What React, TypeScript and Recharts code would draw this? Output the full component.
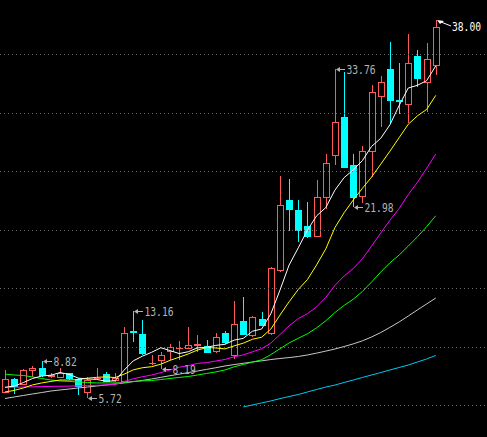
import React from 'react';
import { ComposedChart, XAxis, YAxis, Bar, Line, Scatter, ReferenceLine } from 'recharts';

const opens = [6.09, 7.28, 6.82, 7.99, 8.27, 7.48, 7.42, 7.78, 7.31, 6.15, 7.33, 7.74, 7.14, 7.03, 11.43, 11.18, 8.65, 8.85, 9.64, 9.87, 9.87, 10.15, 10.17, 9.64, 11.2, 9.27, 12.27, 10.96, 12.44, 11.15, 16.58, 22.61, 21.75, 20.39, 19.47, 22.75, 26.37, 29.73, 25.6, 22.84, 26.68, 31.45, 33.8, 31.15, 30.73, 34.92, 32.58, 34.09];
const highs = [8.08, 7.39, 8.12, 8.42, 8.82, 7.82, 8.29, 7.86, 7.35, 7.52, 8.28, 7.91, 7.8, 11.78, 13.16, 12.35, 9.36, 9.64, 10.3, 10.58, 11.73, 11.11, 10.67, 11.27, 11.45, 13.98, 14.34, 12.65, 13.03, 16.91, 24.68, 24.4, 22.61, 22.41, 24.32, 26.51, 33.76, 33.52, 26.54, 27.25, 32.44, 33.21, 36.14, 34.29, 36.8, 35.43, 36.0, 38.0];
const lows = [6.07, 6.03, 6.78, 7.5, 7.48, 7.39, 7.39, 7.22, 5.98, 5.72, 7.26, 7.01, 7.05, 6.97, 10.43, 9.36, 8.5, 8.19, 8.93, 8.93, 9.85, 9.64, 9.53, 9.53, 10.34, 9.02, 11.03, 10.9, 11.81, 11.1, 16.41, 19.98, 19.04, 19.4, 19.44, 21.84, 25.6, 25.3, 21.98, 22.33, 24.6, 28.87, 29.1, 29.96, 29.16, 32.24, 30.15, 33.29];
const closes = [7.28, 6.65, 8.08, 8.22, 7.56, 7.65, 7.78, 7.27, 6.65, 7.22, 7.43, 7.05, 7.42, 11.21, 11.21, 9.42, 8.7, 9.36, 10.02, 9.92, 10.21, 10.33, 9.56, 10.87, 10.39, 12.01, 11.07, 12.59, 11.86, 16.82, 22.18, 21.78, 19.98, 19.45, 22.84, 25.74, 29.25, 25.32, 22.75, 26.82, 31.81, 32.72, 31.09, 30.96, 34.34, 32.95, 34.66, 37.42];

const ma5 = [6.6, 6.7, 7.0, 7.35, 7.56, 7.63, 7.86, 7.7, 7.38, 7.31, 7.27, 7.12, 7.15, 8.07, 8.86, 9.26, 9.59, 9.98, 9.74, 9.48, 9.64, 9.97, 10.01, 10.18, 10.27, 10.63, 10.78, 11.39, 11.58, 12.87, 14.9, 17.05, 18.52, 20.04, 21.25, 21.96, 23.45, 24.52, 25.18, 25.98, 27.19, 27.88, 29.04, 30.68, 32.18, 32.41, 32.8, 34.07];
const ma10 = [6.2, 6.33, 6.54, 6.8, 6.97, 7.1, 7.22, 7.22, 7.26, 7.38, 7.45, 7.49, 7.43, 7.72, 8.09, 8.27, 8.36, 8.57, 8.9, 9.17, 9.45, 9.78, 9.99, 9.96, 9.88, 10.14, 10.37, 10.7, 10.88, 11.57, 12.77, 13.91, 14.96, 15.81, 17.06, 18.43, 20.25, 21.52, 22.61, 23.61, 24.57, 25.67, 26.78, 27.93, 29.08, 29.8, 30.34, 31.55];
const ma20 = [6.58, 6.6, 6.62, 6.64, 6.66, 6.67, 6.69, 6.7, 6.72, 6.74, 6.77, 6.8, 6.84, 7.08, 7.33, 7.5, 7.65, 7.85, 8.08, 8.31, 8.45, 8.64, 8.71, 8.84, 8.98, 9.2, 9.37, 9.63, 9.89, 10.37, 11.11, 11.85, 12.47, 12.89, 13.47, 14.28, 15.31, 16.11, 16.75, 17.59, 18.67, 19.79, 20.87, 21.87, 23.07, 24.12, 25.3, 26.54];
const ma30 = [7.73, 7.65, 7.61, 7.48, 7.35, 7.22, 7.14, 7.1, 7.05, 7.01, 6.97, 6.97, 6.97, 7.01, 7.1, 7.14, 7.18, 7.26, 7.35, 7.44, 7.52, 7.65, 7.78, 7.91, 8.08, 8.35, 8.55, 8.75, 8.95, 9.39, 9.89, 10.39, 10.79, 11.17, 11.68, 12.28, 12.99, 13.6, 14.13, 14.79, 15.6, 16.45, 17.24, 17.9, 18.67, 19.46, 20.32, 21.26];
const ma60 = [5.64, 5.77, 5.9, 6.03, 6.15, 6.28, 6.37, 6.45, 6.54, 6.62, 6.71, 6.79, 6.88, 6.97, 7.08, 7.19, 7.31, 7.45, 7.59, 7.72, 7.86, 7.99, 8.13, 8.27, 8.42, 8.54, 8.65, 8.76, 8.86, 8.97, 9.06, 9.14, 9.23, 9.36, 9.52, 9.69, 9.87, 10.08, 10.31, 10.57, 10.9, 11.28, 11.72, 12.18, 12.69, 13.21, 13.72, 14.23];
// the long average only starts at candle 26
const ma120Start = 26;
const ma120 = [4.92, 5.09, 5.26, 5.43, 5.63, 5.81, 5.98, 6.2, 6.41, 6.62, 6.79, 7.01, 7.22, 7.44, 7.65, 7.86, 8.08, 8.29, 8.5, 8.76, 9.02, 9.32];

const gridLevels = [5, 10, 15, 20, 25, 30, 35];
const markIndex = [47, 36, 38, 14, 4, 17, 9];
const markKind = ['high', 'high', 'low', 'high', 'high', 'low', 'low'];

const UP = '#ff5a5a';
const DOWN = '#00ffff';

const data = closes.map((close, i) => ({
  i,
  open: opens[i],
  high: highs[i],
  low: lows[i],
  close,
  ma5: ma5[i],
  ma10: ma10[i],
  ma20: ma20[i],
  ma30: ma30[i],
  ma60: ma60[i],
  ma120: i >= ma120Start ? ma120[i - ma120Start] : null,
}));

const marks = markIndex.map((i, k) => {
  const price = markKind[k] === 'high' ? highs[i] : lows[i];
  return { i, price, text: price.toFixed(2), last: i === closes.length - 1 };
});

const Candle = (props: any) => {
  const { x, y, width, height, payload } = props;
  const { open, close, high, low } = payload;
  const ratio = high > low ? height / (high - low) : 0;
  const yOpen = y + (high - open) * ratio;
  const yClose = y + (high - close) * ratio;
  const top = Math.round(Math.min(yOpen, yClose));
  const bottom = Math.round(Math.max(yOpen, yClose));
  const cx = Math.round(x + width / 2);
  const left = cx - 3;
  const up = close >= open;
  const color = up ? UP : DOWN;
  const yHigh = Math.round(y);
  const yLow = Math.round(y + height);

  let body;
  if (bottom - top < 2) {
    body = <line x1={left} x2={left + 7} y1={top + 0.5} y2={top + 0.5} stroke={color} />;
  } else if (up) {
    // hollow up candle, the averages show through
    body = <rect x={left + 0.5} y={top + 0.5} width={6} height={bottom - top - 1} fill="none" stroke={color} />;
  } else {
    body = <rect x={left} y={top} width={7} height={bottom - top} fill={color} />;
  }

  return (
    <g>
      <line x1={cx + 0.5} x2={cx + 0.5} y1={yHigh} y2={top} stroke={color} />
      <line x1={cx + 0.5} x2={cx + 0.5} y1={bottom} y2={yLow} stroke={color} />
      {body}
    </g>
  );
};

const Mark = (props: any) => {
  const { cx, cy, payload } = props;
  const px = Math.round(cx);
  const py = Math.round(cy);
  const len = payload.text.length * 5.8;
  const textStyle = { fontFamily: '"DejaVu Sans Mono", monospace', fontSize: 12 };

  if (payload.last) {
    const color = '#ffffff';
    return (
      <g>
        <polygon points={`${px + 1},${py} ${px + 8},${py + 1} ${px + 4},${py + 4}`} fill={color} />
        <line x1={px + 5} y1={py + 2} x2={px + 15} y2={py + 6} stroke={color} />
        <text x={px + 16} y={py + 10.5} fill={color} textLength={len} lengthAdjust="spacingAndGlyphs" style={textStyle}>
          {payload.text}
        </text>
      </g>
    );
  }

  const color = '#b4b4b4';
  return (
    <g>
      <polygon points={`${px + 1},${py + 0.5} ${px + 5},${py - 2} ${px + 5},${py + 3}`} fill={color} />
      <line x1={px + 5} y1={py + 0.5} x2={px + 10} y2={py + 0.5} stroke={color} />
      <text x={px + 11.5} y={py + 5} fill={color} textLength={len} lengthAdjust="spacingAndGlyphs" style={textStyle}>
        {payload.text}
      </text>
    </g>
  );
};

const App: React.FC = () => {
  return (
    <div style={{ position: 'absolute', left: 0, top: 0, width: 487, height: 437, background: '#000' }}>
      <ComposedChart width={487} height={437} data={data} margin={{ top: 0, right: 0, bottom: 0, left: 0 }}>
        <XAxis dataKey="i" type="number" domain={[-0.546, 52.59]} allowDataOverflow hide />
        <YAxis type="number" domain={[2.35, 39.7]} allowDataOverflow hide />
        {gridLevels.map((v) => (
          <ReferenceLine key={v} y={v} stroke="#6a6a6a" strokeDasharray="1 3" shapeRendering="crispEdges" />
        ))}
        <Scatter data={marks} dataKey="price" shape={Mark} isAnimationActive={false} />
        <Line dataKey="ma120" stroke="#00c8f0" dot={false} activeDot={false} isAnimationActive={false} strokeWidth={1} />
        <Line dataKey="ma60" stroke="#c8c8c8" dot={false} activeDot={false} isAnimationActive={false} strokeWidth={1} />
        <Line dataKey="ma30" stroke="#00ff00" dot={false} activeDot={false} isAnimationActive={false} strokeWidth={1} />
        <Line dataKey="ma20" stroke="#ff00ff" dot={false} activeDot={false} isAnimationActive={false} strokeWidth={1} />
        <Line dataKey="ma10" stroke="#ffff00" dot={false} activeDot={false} isAnimationActive={false} strokeWidth={1} />
        <Line dataKey="ma5" stroke="#ffffff" dot={false} activeDot={false} isAnimationActive={false} strokeWidth={1} />
        <Bar dataKey={(d: any) => [d.low, d.high]} barSize={7} shape={Candle} isAnimationActive={false} />
      </ComposedChart>
    </div>
  );
};

export default App;
